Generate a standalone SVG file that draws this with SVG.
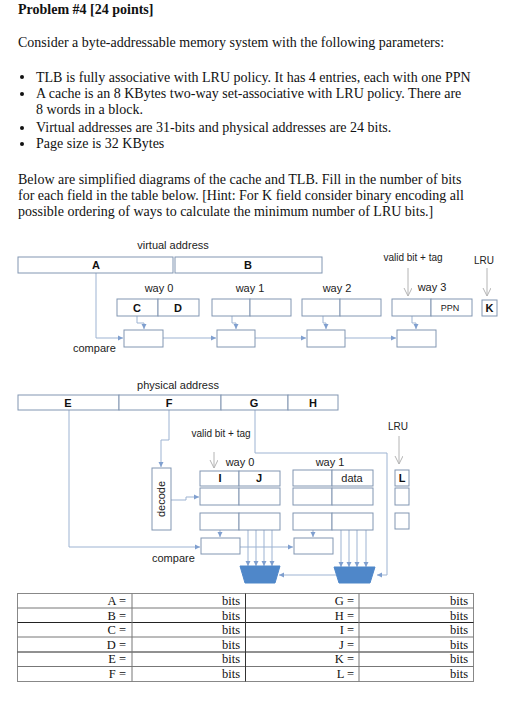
<svg xmlns="http://www.w3.org/2000/svg" width="529" height="703" viewBox="0 0 529 703">
<style>
.t{font-family:"Liberation Serif","Times New Roman",serif;font-size:14px;fill:#111}
.tb{font-family:"Liberation Serif","Times New Roman",serif;font-size:14px;font-weight:bold;fill:#111}
.s{font-family:"Liberation Sans",Arial,sans-serif;font-size:11px;fill:#222}
.ss{font-family:"Liberation Sans",Arial,sans-serif;font-size:10px;fill:#222}
.sp{font-family:"Liberation Sans",Arial,sans-serif;font-size:9px;fill:#222}
.sb{font-family:"Liberation Sans",Arial,sans-serif;font-size:11px;font-weight:bold;fill:#111;text-anchor:middle}
.box{fill:#fff;stroke:#8196b2;stroke-width:1}
.con{fill:none;stroke:#9db3d2;stroke-width:1}
.lab{fill:none;stroke:#b4b4b4;stroke-width:1}
.mux{fill:#4f87c9;stroke:#4f87c9}
.tt{font-family:"Liberation Serif","Times New Roman",serif;font-size:12.5px;fill:#111;text-anchor:end}
.tl{stroke:#777;stroke-width:1;fill:none}
</style>
<defs>
<marker id="ah" markerWidth="6" markerHeight="6" refX="5" refY="3" orient="auto" markerUnits="userSpaceOnUse">
<path d="M0,0.5 L5,3 L0,5.5 Z" fill="#7f9fcf"/>
</marker>
<marker id="og" markerWidth="10" markerHeight="10" refX="8" refY="4" orient="auto" markerUnits="userSpaceOnUse">
<path d="M0,0 L8,4 L0,8" fill="none" stroke="#b4b4b4" stroke-width="1"/>
</marker>
</defs>

<g id="text">
<text class="tb" x="18" y="14">Problem #4 [24 points]</text>
<text class="t" x="18" y="47">Consider a byte-addressable memory system with the following parameters:</text>
<circle cx="22" cy="77" r="2" fill="#111"/>
<text class="t" x="36" y="82">TLB is fully associative with LRU policy. It has 4 entries, each with one PPN</text>
<circle cx="22" cy="94" r="2" fill="#111"/>
<text class="t" x="36" y="98">A cache is an 8 KBytes two-way set-associative with LRU policy. There are</text>
<text class="t" x="36" y="114">8 words in a block.</text>
<circle cx="22" cy="128" r="2" fill="#111"/>
<text class="t" x="36" y="132">Virtual addresses are 31-bits and physical addresses are 24 bits.</text>
<circle cx="22" cy="144" r="2" fill="#111"/>
<text class="t" x="36" y="148">Page size is 32 KBytes</text>
<text class="t" x="18" y="184">Below are simplified diagrams of the cache and TLB. Fill in the number of bits</text>
<text class="t" x="18" y="200">for each field in the table below. [Hint: For K field consider binary encoding all</text>
<text class="t" x="18" y="216">possible ordering of ways to calculate the minimum number of LRU bits.]</text>
</g>

<g id="connectors">
<path class="con" d="M96,273 V338 H123" marker-end="url(#ah)"/>
<path class="con" d="M163,338 H216" marker-end="url(#ah)"/>
<path class="con" d="M255,338 H306" marker-end="url(#ah)"/>
<path class="con" d="M345,338 H396" marker-end="url(#ah)"/>
<path class="con" d="M137,316 V323 H144 V329" marker-end="url(#ah)"/>
<path class="con" d="M232,316 V323 H236 V329" marker-end="url(#ah)"/>
<path class="con" d="M323,316 V323 H326 V329" marker-end="url(#ah)"/>
<path class="con" d="M412,316 V323 H416 V329" marker-end="url(#ah)"/>
<path class="lab" d="M408,268 V296" marker-end="url(#og)"/>
<path class="lab" d="M487,268 V296" marker-end="url(#og)"/>

<path class="con" d="M69,410 V547 H200" marker-end="url(#ah)"/>
<path class="con" d="M240,547 H293" marker-end="url(#ah)"/>
<path class="con" d="M169,410 V440 H161 V467" marker-end="url(#ah)"/>
<path class="con" d="M171,500 H186 V497 H199" marker-end="url(#ah)"/>
<path class="con" d="M255,410 V453 H387 V575 H377" marker-end="url(#ah)"/>
<path class="con" d="M336,575 H279" marker-end="url(#ah)"/>
<path class="con" d="M220,530 V537" marker-end="url(#ah)"/>
<path class="con" d="M313,530 V537" marker-end="url(#ah)"/>
<path class="con" d="M248,530 V566" marker-end="url(#ah)"/>
<path class="con" d="M256,530 V566" marker-end="url(#ah)"/>
<path class="con" d="M264,530 V566" marker-end="url(#ah)"/>
<path class="con" d="M272,530 V566" marker-end="url(#ah)"/>
<path class="con" d="M341,530 V567" marker-end="url(#ah)"/>
<path class="con" d="M349,530 V567" marker-end="url(#ah)"/>
<path class="con" d="M357,530 V567" marker-end="url(#ah)"/>
<path class="con" d="M366,530 V567" marker-end="url(#ah)"/>
<path class="lab" d="M214,452 V468" marker-end="url(#og)"/>
<path class="lab" d="M399,436 V464" marker-end="url(#og)"/>
</g>

<g id="virtual-address">
<text class="s" x="173" y="249" text-anchor="middle">virtual address</text>
<rect class="box" x="18" y="257" width="155" height="16"/>
<rect class="box" x="175" y="257" width="147" height="16"/>
<text class="sb" x="96" y="269">A</text>
<text class="sb" x="248" y="269">B</text>
</g>

<g id="tlb-way0">
<text class="s" x="159" y="292" text-anchor="middle">way 0</text>
<rect class="box" x="117" y="299" width="41" height="17"/>
<rect class="box" x="158" y="299" width="41" height="17"/>
<text class="sb" x="137" y="312">C</text>
<text class="sb" x="178" y="312">D</text>
</g>
<g id="tlb-way1">
<text class="s" x="250" y="292" text-anchor="middle">way 1</text>
<rect class="box" x="212" y="299" width="38" height="17"/>
<rect class="box" x="250" y="299" width="41" height="17"/>
</g>
<g id="tlb-way2">
<text class="s" x="337" y="292" text-anchor="middle">way 2</text>
<rect class="box" x="302" y="299" width="38" height="17"/>
<rect class="box" x="340" y="299" width="41" height="17"/>
</g>
<g id="tlb-way3">
<text class="ss" x="413" y="261" text-anchor="middle">valid bit + tag</text>
<text class="s" x="432" y="291" text-anchor="middle">way 3</text>
<rect class="box" x="392" y="299" width="39" height="17"/>
<rect class="box" x="431" y="299" width="41" height="17"/>
<text class="sp" x="450" y="311" text-anchor="middle">PPN</text>
</g>
<g id="tlb-lru">
<text class="ss" x="484" y="264" text-anchor="middle">LRU</text>
<rect class="box" x="482" y="300" width="15" height="16"/>
<text class="sb" x="489.5" y="312">K</text>
</g>
<g id="tlb-compare">
<rect class="box" x="124" y="330" width="39" height="17"/>
<rect class="box" x="217" y="330" width="38" height="17"/>
<rect class="box" x="307" y="330" width="38" height="17"/>
<rect class="box" x="397" y="330" width="39" height="17"/>
<text class="s" x="73" y="352">compare</text>
</g>

<g id="physical-address">
<text class="s" x="178" y="389" text-anchor="middle">physical  address</text>
<rect class="box" x="18" y="395" width="101" height="15"/>
<rect class="box" x="119" y="395" width="102" height="15"/>
<rect class="box" x="221" y="395" width="67" height="15"/>
<rect class="box" x="288" y="395" width="50" height="15"/>
<text class="sb" x="68" y="407">E</text>
<text class="sb" x="169" y="407">F</text>
<text class="sb" x="254" y="407">G</text>
<text class="sb" x="313" y="407">H</text>
</g>

<g id="decode">
<rect class="box" x="152" y="468" width="19" height="62"/>
<text class="s" transform="translate(165,499) rotate(-90)" text-anchor="middle">decode</text>
</g>

<g id="cache-way0">
<text class="ss" x="221" y="437" text-anchor="middle">valid bit + tag</text>
<text class="s" x="240" y="466" text-anchor="middle">way 0</text>
<rect class="box" x="200" y="471" width="39" height="15"/>
<rect class="box" x="239" y="471" width="41" height="15"/>
<text class="sb" x="220" y="482">I</text>
<text class="sb" x="259" y="482">J</text>
<rect class="box" x="200" y="488" width="39" height="17"/>
<rect class="box" x="239" y="488" width="41" height="17"/>
<rect class="box" x="200" y="513" width="39" height="17"/>
<rect class="box" x="239" y="513" width="41" height="17"/>
<rect class="box" x="201" y="538" width="39" height="16"/>
<polygon class="mux" points="240,566 280,566 275,583 245,583"/>
</g>

<g id="cache-way1">
<text class="s" x="330" y="466" text-anchor="middle">way 1</text>
<rect class="box" x="293" y="470" width="39" height="16"/>
<rect class="box" x="332" y="470" width="41" height="16"/>
<text class="s" x="352" y="482" text-anchor="middle">data</text>
<rect class="box" x="293" y="488" width="39" height="17"/>
<rect class="box" x="332" y="488" width="41" height="17"/>
<rect class="box" x="293" y="513" width="39" height="17"/>
<rect class="box" x="332" y="513" width="41" height="17"/>
<rect class="box" x="294" y="538" width="39" height="16"/>
<polygon class="mux" points="334,567 375,567 370,583 339,583"/>
</g>

<g id="cache-lru">
<text class="ss" x="398" y="430" text-anchor="middle">LRU</text>
<rect class="box" x="395" y="470" width="14" height="16"/>
<text class="sb" x="402" y="482">L</text>
<rect class="box" x="395" y="488" width="14" height="17"/>
<rect class="box" x="395" y="513" width="14" height="16"/>
</g>
<text class="s" x="152" y="562">compare</text>

<g id="table">
<rect x="17.5" y="593.5" width="456" height="88" fill="none" stroke="#888"/>
<line class="tl" x1="17.5" y1="608" x2="473.5" y2="608"/>
<line x1="17.5" y1="622.5" x2="473.5" y2="622.5" stroke="#222"/>
<line class="tl" x1="17.5" y1="637" x2="473.5" y2="637"/>
<line x1="17.5" y1="652" x2="473.5" y2="652" stroke="#222"/>
<line class="tl" x1="17.5" y1="666.5" x2="473.5" y2="666.5"/>
<line class="tl" x1="132" y1="593.5" x2="132" y2="681.5"/>
<line x1="245.5" y1="593.5" x2="245.5" y2="681.5" stroke="#333"/>
<line class="tl" x1="359" y1="593.5" x2="359" y2="681.5"/>
<text class="tt" x="126" y="605">A =</text><text class="tt" x="240" y="605">bits</text><text class="tt" x="354" y="605">G =</text><text class="tt" x="468" y="605">bits</text>
<text class="tt" x="126" y="619.5">B =</text><text class="tt" x="240" y="619.5">bits</text><text class="tt" x="354" y="619.5">H =</text><text class="tt" x="468" y="619.5">bits</text>
<text class="tt" x="126" y="634">C =</text><text class="tt" x="240" y="634">bits</text><text class="tt" x="354" y="634">I =</text><text class="tt" x="468" y="634">bits</text>
<text class="tt" x="126" y="648.5">D =</text><text class="tt" x="240" y="648.5">bits</text><text class="tt" x="354" y="648.5">J =</text><text class="tt" x="468" y="648.5">bits</text>
<text class="tt" x="126" y="663">E =</text><text class="tt" x="240" y="663">bits</text><text class="tt" x="354" y="663">K =</text><text class="tt" x="468" y="663">bits</text>
<text class="tt" x="126" y="678">F =</text><text class="tt" x="240" y="678">bits</text><text class="tt" x="354" y="678">L =</text><text class="tt" x="468" y="678">bits</text>
</g>
</svg>
